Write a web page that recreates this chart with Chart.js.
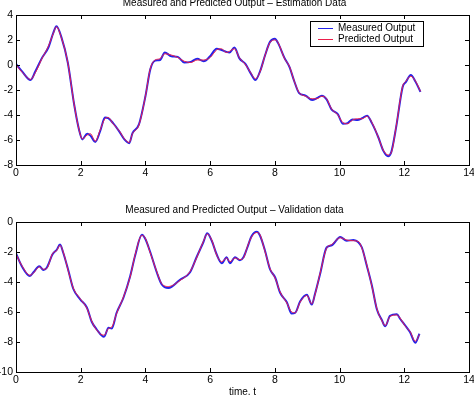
<!DOCTYPE html>
<html>
<head>
<meta charset="utf-8">
<script src="https://cdn.jsdelivr.net/npm/chart.js@4.4.1/dist/chart.umd.min.js"></script>
<style>
  body { margin: 0; background: #fff; }
  canvas { position: absolute; left: 0; }
  #estChart { top: 0; }
  #valChart { top: 190px; }
</style>
</head>
<body>
<canvas id="estChart" width="474" height="190"></canvas>
<canvas id="valChart" width="474" height="205"></canvas>
<script>
// Estimation data (top plot)
const tEst = [0, 0.2, 0.45, 0.6, 0.8, 1.0, 1.15, 1.25, 1.4, 1.6, 1.8, 1.95, 2.05, 2.2, 2.3, 2.45, 2.6, 2.75, 2.85, 3.0,
  3.2, 3.35, 3.5, 3.6, 3.8, 4.0, 4.15, 4.3, 4.45, 4.6, 4.8, 5.0, 5.2, 5.4, 5.6, 5.8, 6.0, 6.2, 6.35, 6.5,
  6.6, 6.75, 6.9, 7.1, 7.25, 7.4, 7.55, 7.7, 7.85, 8.0, 8.1, 8.3, 8.45, 8.6, 8.75, 8.95, 9.15, 9.3, 9.45, 9.6,
  9.75, 9.95, 10.1, 10.25, 10.4, 10.55, 10.7, 10.85, 11.0, 11.2, 11.35, 11.5, 11.6, 11.75, 11.95, 12.05, 12.2, 12.35, 12.5];
const measEst = [0.1, -0.55, -1.2, -0.5, 0.55, 1.4, 2.55, 3.1, 2.25, 0.2, -3.2, -5.2, -5.95, -5.5, -5.65, -6.15, -5.3, -4.2, -4.25, -4.65,
  -5.35, -5.95, -6.25, -5.45, -4.75, -2.5, -0.35, 0.35, 0.4, 1.0, 0.7, 0.65, 0.2, 0.25, 0.5, 0.3, 0.7, 1.3, 1.2, 1.05,
  1.0, 1.4, 0.55, 0.05, -0.65, -1.2, -0.45, 0.8, 1.85, 2.1, 1.75, 0.55, -0.15, -1.3, -2.25, -2.45, -2.8, -2.65, -2.45, -2.75,
  -3.55, -3.95, -4.7, -4.65, -4.35, -4.4, -4.25, -4.05, -4.65, -5.8, -6.85, -7.3, -6.95, -4.95, -1.75, -1.35, -0.8, -1.35, -2.15];
const predEst = [0, -0.6, -1.15, -0.6, 0.5, 1.5, 2.5, 3.05, 2.2, 0.2, -3.2, -5.2, -5.9, -5.6, -5.5, -6.1, -5.2, -4.3, -4.2, -4.7,
  -5.3, -5.9, -6.2, -5.5, -4.8, -2.5, -0.3, 0.4, 0.5, 0.9, 0.8, 0.6, 0.3, 0.2, 0.4, 0.4, 0.6, 1.2, 1.3, 1.0,
  1.1, 1.3, 0.6, 0, -0.6, -1.1, -0.5, 0.8, 1.8, 2.0, 1.8, 0.5, -0.1, -1.3, -2.2, -2.5, -2.7, -2.7, -2.5, -2.7,
  -3.5, -4.0, -4.6, -4.7, -4.4, -4.3, -4.3, -4.1, -4.6, -5.8, -6.8, -7.2, -7.0, -4.9, -1.7, -1.3, -0.9, -1.3, -2.1];

// Validation data (bottom plot)
const tVal = [0, 0.18, 0.43, 0.54, 0.72, 0.85, 0.95, 1.13, 1.26, 1.36, 1.46, 1.62, 1.77, 1.98, 2.19, 2.34, 2.49, 2.72, 2.86, 2.96,
  3.11, 3.32, 3.53, 3.68, 3.89, 3.99, 4.14, 4.35, 4.5, 4.71, 5.07, 5.38, 5.58, 5.79, 5.91, 6.05, 6.2, 6.36, 6.51, 6.61,
  6.77, 6.92, 7.03, 7.15, 7.28, 7.44, 7.54, 7.7, 7.85, 8.01, 8.16, 8.37, 8.52, 8.63, 8.78, 8.99, 9.14, 9.24, 9.4, 9.6,
  9.76, 10.02, 10.22, 10.43, 10.58, 10.69, 10.84, 11.0, 11.15, 11.31, 11.41, 11.56, 11.77, 11.87, 12.03, 12.18, 12.34, 12.47];
const measVal = [-2.1, -2.95, -3.6, -3.35, -2.95, -3.2, -3.05, -2.15, -1.85, -1.5, -2.05, -3.25, -4.45, -5.15, -5.7, -6.65, -7.15, -7.65, -7.05, -7.1,
  -6.05, -5.05, -3.6, -2.25, -0.85, -1.1, -1.95, -3.35, -4.15, -4.4, -3.85, -3.35, -2.35, -1.35, -0.75, -1.25, -2.15, -2.75, -2.35, -2.75,
  -2.35, -2.55, -2.35, -1.7, -0.95, -0.65, -0.9, -1.95, -3.15, -3.7, -4.7, -5.35, -6.1, -6.05, -5.3, -4.85, -5.5, -4.8, -3.45, -1.7,
  -1.55, -1.0, -1.25, -1.2, -1.35, -1.7, -2.9, -4.25, -5.8, -6.55, -6.95, -6.25, -6.15, -6.45, -6.9, -7.35, -8.05, -7.45];
const predVal = [-2.15, -2.9, -3.55, -3.4, -3.0, -3.15, -3.1, -2.1, -1.9, -1.55, -2.0, -3.3, -4.4, -5.1, -5.75, -6.6, -7.2, -7.55, -7.1, -7.0,
  -6.1, -5.0, -3.65, -2.2, -0.9, -1.05, -2.0, -3.3, -4.1, -4.3, -3.9, -3.3, -2.4, -1.3, -0.8, -1.2, -2.2, -2.65, -2.4, -2.65,
  -2.4, -2.5, -2.4, -1.65, -1.0, -0.7, -0.85, -2.0, -3.1, -3.75, -4.65, -5.4, -6.0, -6.05, -5.35, -4.9, -5.45, -4.85, -3.4, -1.75,
  -1.5, -1.05, -1.2, -1.25, -1.3, -1.75, -2.85, -4.3, -5.75, -6.6, -6.9, -6.3, -6.2, -6.4, -6.95, -7.3, -7.95, -7.5];

const seriesNames = ['Measured Output', 'Predicted Output'];
const titleEst = 'Measured and Predicted Output \u2013 Estimation Data';
const titleVal = 'Measured and Predicted Output \u2013 Validation data';
const xLabel = 'time, t';

const FONT = 'Liberation Sans, Arial, Helvetica, sans-serif';
const BLUE = 'rgb(35,35,235)';
const RED = 'rgb(235,30,75)';

function pts(xs, ys) {
    return xs.map((x, i) => ({x: x, y: ys[i]}));
}

// matlab style frame with inward ticks on all four sides
const boxPlugin = {
    id: 'box',
    afterDatasetsDraw(chart) {
        const {ctx, chartArea: a, scales} = chart;
        ctx.save();
        ctx.strokeStyle = '#000';
        ctx.lineWidth = 1;
        ctx.strokeRect(Math.round(a.left) + 0.5, Math.round(a.top) + 0.5,
            Math.round(a.right - a.left), Math.round(a.bottom - a.top));
        ctx.beginPath();
        scales.x.ticks.forEach(t => {
            const px = Math.round(scales.x.getPixelForValue(t.value)) + 0.5;
            ctx.moveTo(px, a.bottom); ctx.lineTo(px, a.bottom - 4);
            ctx.moveTo(px, a.top); ctx.lineTo(px, a.top + 4);
        });
        scales.y.ticks.forEach(t => {
            const py = Math.round(scales.y.getPixelForValue(t.value)) + 0.5;
            ctx.moveTo(a.left, py); ctx.lineTo(a.left + 4, py);
            ctx.moveTo(a.right, py); ctx.lineTo(a.right - 4, py);
        });
        ctx.stroke();
        ctx.restore();
    }
};

// boxed legend in the upper right of the top plot
const legendPlugin = {
    id: 'boxLegend',
    afterDraw(chart, args, opts) {
        if (!opts.show) return;
        const ctx = chart.ctx;
        ctx.save();
        ctx.fillStyle = '#fff';
        ctx.fillRect(310, 21, 113, 25);
        ctx.strokeStyle = '#000';
        ctx.lineWidth = 1;
        ctx.strokeRect(310.5, 21.5, 113, 25);
        ctx.font = '10px ' + FONT;
        ctx.textBaseline = 'middle';
        chart.data.datasets.forEach((ds, i) => {
            const y = 28.5 + i * 11;
            ctx.strokeStyle = ds.borderColor;
            ctx.beginPath();
            ctx.moveTo(318, y); ctx.lineTo(333, y);
            ctx.stroke();
            ctx.fillStyle = '#000';
            ctx.fillText(ds.label, 338, y);
        });
        ctx.restore();
    }
};

function makeChart(id, t, meas, pred, cfg) {
    const ctx = document.getElementById(id).getContext('2d');
    return new Chart(ctx, {
        type: 'line',
        data: {
            datasets: [{
                label: seriesNames[0],
                data: pts(t, meas),
                borderColor: BLUE,
                borderWidth: 2,
                pointRadius: 0,
                cubicInterpolationMode: 'monotone',
                order: 1
            }, {
                label: seriesNames[1],
                data: pts(t, pred),
                borderColor: RED,
                borderWidth: 1,
                pointRadius: 0,
                cubicInterpolationMode: 'monotone',
                order: 0
            }]
        },
        options: {
            responsive: false,
            animation: false,
            layout: { padding: { left: 0, right: 5, top: 0, bottom: 0 } },
            plugins: {
                legend: { display: false },
                tooltip: { enabled: false },
                title: {
                    display: true,
                    text: cfg.title,
                    color: '#000',
                    font: { family: FONT, size: 10, weight: 'normal', lineHeight: cfg.titleLH },
                    padding: cfg.titlePad
                },
                boxLegend: { show: cfg.legend }
            },
            scales: {
                x: {
                    type: 'linear',
                    min: 0,
                    max: 14,
                    ticks: { stepSize: 2, color: '#000', padding: 2, maxRotation: 0,
                             font: { family: FONT, size: 10.5 } },
                    grid: { display: false, drawTicks: false },
                    border: { display: false },
                    title: {
                        display: cfg.xTitle,
                        text: xLabel,
                        color: '#000',
                        font: { family: FONT, size: 10, lineHeight: 0.5 },
                        padding: 0
                    },
                    afterFit: s => { s.height = cfg.xHeight; s.paddingLeft = 0; s.paddingRight = 0; }
                },
                y: {
                    min: cfg.yMin,
                    max: cfg.yMax,
                    ticks: { stepSize: 2, color: '#000', padding: 3,
                             font: { family: FONT, size: 10.5 } },
                    grid: { display: false, drawTicks: false },
                    border: { display: false },
                    afterFit: s => { s.width = 16; s.paddingTop = 0; s.paddingBottom = 0; }
                }
            }
        },
        plugins: [boxPlugin, legendPlugin]
    });
}

makeChart('estChart', tEst, measEst, predEst, {
    title: titleEst, titleLH: 0.6, titlePad: { top: 0, bottom: 9 },
    yMin: -8, yMax: 4, xHeight: 25, xTitle: false, legend: true
});
makeChart('valChart', tVal, measVal, predVal, {
    title: titleVal, titleLH: 1.2, titlePad: { top: 14, bottom: 6 },
    yMin: -10, yMax: 0, xHeight: 23, xTitle: true, legend: false
});
</script>
</body>
</html>
